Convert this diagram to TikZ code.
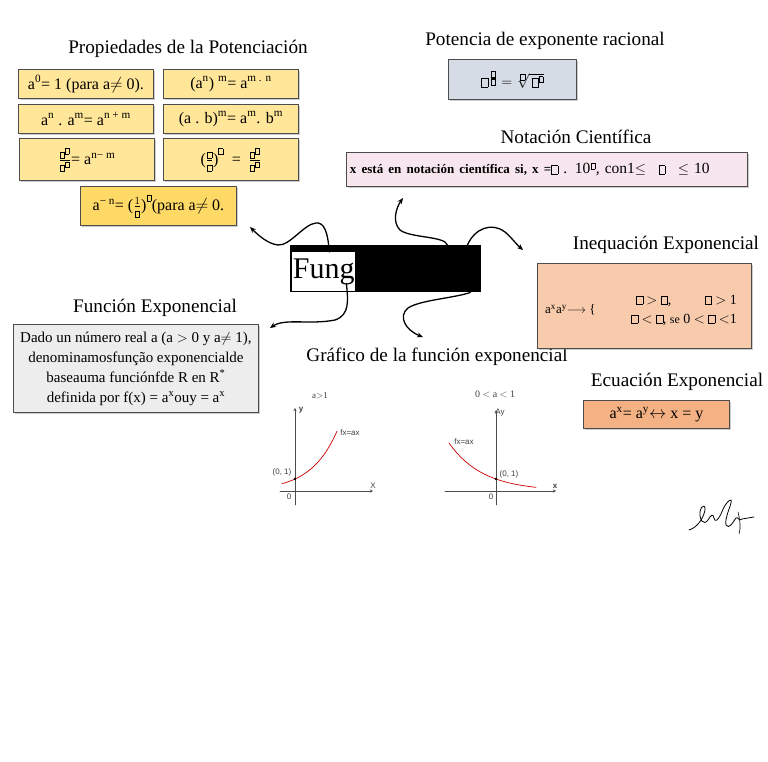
\documentclass[tikz,border=0pt]{standalone}
\usepackage{amsmath,amssymb}
\usepackage{fontspec}
\setmainfont{Liberation Serif}
\newfontfamily\lblfont{Liberation Sans}
\usetikzlibrary{arrows.meta,shadows,calc}
\usepackage{xcolor}

\definecolor{propfill}{HTML}{FFE699}
\definecolor{propdark}{HTML}{FFD966}
\definecolor{racfill}{HTML}{D6DCE5}
\definecolor{notfill}{HTML}{F7E6EE}
\definecolor{ineqfill}{HTML}{F8CBAD}
\definecolor{ecfill}{HTML}{F4B183}
\definecolor{funcfill}{HTML}{EDEDED}

% cajitas de glifo ausente
\newcommand\bx{\mbox{\fboxsep=0pt\fboxrule=0.45pt\fbox{\rule{0pt}{8pt}\hspace{6pt}}}}
\newcommand\sbx{\mbox{\fboxsep=0pt\fboxrule=0.4pt\fbox{\rule{0pt}{5.5pt}\hspace{4pt}}}}

\begin{document}
\begin{tikzpicture}[x=1pt,y=-1pt,>={Stealth[length=6pt,width=5pt]},line cap=round,
  ttl/.style={font=\fontsize{19.2}{22}\selectfont,inner sep=1pt},
  cbox/.style={draw=black!70,line width=0.9pt,anchor=north west,inner sep=2pt,align=center,
    drop shadow={opacity=0.4,shadow xshift=1.5pt,shadow yshift=-1.5pt}},
  propbox/.style={cbox,fill=propfill,minimum width=135,minimum height=29,font=\fontsize{16}{18}\selectfont},
  link/.style={->,line width=1.3pt},
  axis/.style={gray!60!black,line width=0.6pt,-{Stealth[length=3pt,width=3pt]}},
  curve/.style={red!80!black,line width=0.7pt},
  lbl/.style={font=\lblfont\fontsize{8}{9}\selectfont,text=black!75,inner sep=1pt}]
\useasboundingbox[fill=white] (0,0) rectangle (768,762);

% titulos
\node[ttl] (tprop) at (188,49) {Propiedades de la Potenciación};
\node[ttl] (trac) at (545,41) {Potencia de exponente racional};
\node[ttl] (tnot) at (576,137) {Notación Científica};
\node[ttl] (tineq) at (666,245) {Inequación Exponencial};
\node[ttl] (tfunc) at (155,308) {Función Exponencial};
\node[ttl] (tgraf) at (437,357) {Gráfico de la función exponencial};
\node[ttl] (tec) at (677,382) {Ecuación Exponencial};

% propiedades
\node[propbox] (p1) at (18,69) {a\textsuperscript{0}= 1 (para a$\neq$ 0).};
\node[propbox] (p2) at (163,69) {(a\textsuperscript{n}) \textsuperscript{m}= a\textsuperscript{m . n}};
\node[propbox] (p3) at (18,104) {a\textsuperscript{n} . a\textsuperscript{m}= a\textsuperscript{n + m}};
\node[propbox] (p4) at (163,104) {(a . b)\textsuperscript{m}= a\textsuperscript{m}. b\textsuperscript{m}};
\node[propbox,minimum height=42] (p5) at (19,138) {$\frac{\sbx^{\sbx}}{\sbx^{\sbx}}$= a\textsuperscript{n− m}};
\node[propbox,minimum height=42] (p6) at (163,138) {($\frac{\sbx}{\sbx}$)$^{\raisebox{4pt}{\sbx}}$\ \ = \ $\frac{\sbx^{\sbx}}{\sbx^{\sbx}}$};
\node[propbox,fill=propdark,minimum width=156,minimum height=39] (p7) at (80,186) {a\textsuperscript{− n}= ($\frac{1}{\sbx}$)$^{\raisebox{4pt}{\sbx}}$(para a$\neq$ 0.};

% cajas
\node[cbox,fill=racfill,minimum width=128,minimum height=40,font=\fontsize{15}{17}\selectfont] (rac) at (448,59) {$\bx^{\,\frac{\sbx}{\sbx}} = \sqrt[\sbx]{\,\bx^{\sbx}}$};
\node[cbox,fill=notfill,text width=394,minimum height=34,align=left,inner sep=3.5pt,font=\fontsize{15.5}{17}\selectfont] (nota) at (346,152)
  {{\fontsize{13}{15}\selectfont\textbf{x está en notación científica si, x =}}$\bx$ . 10$^{\sbx}$, con1$\leq$\hspace{0.8em}$\bx$\hspace{0.8em}$\leq$ 10};
\node[cbox,fill=ineqfill,minimum width=214,minimum height=85] (ineq) at (537,263) {};
\node[anchor=west,font=\fontsize{13}{15}\selectfont,inner sep=0pt] (ineql) at (545,310) {a\textsuperscript{x}a\textsuperscript{y}$\longrightarrow$ \{};
\node[align=right,anchor=east,font=\fontsize{14}{19}\selectfont,inner sep=0pt] (ineqr) at (737,310)
  {$\bx$ $>$ $\bx$,\hspace{2.4em}$\bx$ $>$ 1\\ $\bx$ $<$ $\bx$, {\fontsize{12}{14}\selectfont se} 0 $<$ $\bx$ $<$1};
\node[cbox,fill=ecfill,minimum width=146,minimum height=28,font=\fontsize{16}{18}\selectfont] (ecua) at (583,400) {a\textsuperscript{x}= a\textsuperscript{y}$\leftrightarrow$ x = y};
\node[cbox,fill=funcfill,minimum width=245,minimum height=88,font=\fontsize{15}{20}\selectfont] (func) at (13,324)
  {Dado un número real a (a $>$ 0 y a$\neq$ 1),\\ denominamosfunção exponencialde\\ baseauma funciónfde R en R\textsuperscript{*}\\ definida por f(x) = a\textsuperscript{x}ouy = a\textsuperscript{x}};

% centro
\node[fill=black,anchor=north west,minimum width=191,minimum height=47,inner sep=0pt] (fungbox) at (290,245) {};
\node[fill=white,anchor=north west,minimum width=63,minimum height=39,inner sep=0pt,font=\fontsize{30}{32}\selectfont] (fung) at (292,252) {Fung};

\coordinate (toprop) at (250,227);
\coordinate (torac) at (403,198);
\coordinate (toineq) at (523,250);
\coordinate (tofunc) at (270,328);
\coordinate (tograf) at (423,337);

\draw[link] ($(fung.north)+(5.5,0)$) .. controls (328,232) and (324,222) .. (316,223)
  .. controls (304,224) and (290,246) .. (278,245) .. controls (268,244) and (258,235) .. (toprop);
\draw[link] ($(fungbox.north east)+(-34,0)$) .. controls (445,236) and (410,238) .. (400,230)
  .. controls (392,222) and (396,208) .. (torac);
\draw[link] ($(fungbox.north east)+(-14,0)$) .. controls (475,228) and (492,222) .. (505,232)
  .. controls (512,238) and (516,244) .. (toineq);
\draw[link] ($(fung.south east)+(-9,-8)$) .. controls (348,300) and (350,315) .. (335,320)
  .. controls (310,325) and (285,318) .. (tofunc);
\draw[link] ($(fungbox.south east)+(-11,0)$) .. controls (455,298) and (420,300) .. (408,308)
  .. controls (398,316) and (405,330) .. (tograf);

% grafico a>1
\draw[axis] (295,505) -- (295,408);
\draw[axis] (280,491) -- (373,491);
\draw[curve] plot[domain=282:337,samples=40] (\x,{491-12*exp(0.0383*(\x-295))});
\fill (295,479) circle (1.3pt);
\node[lbl,font=\fontsize{9}{10}\selectfont] (ga) at (320,396) {a$>$1};
\node[lbl] (gy) at (301,410) {\textbf{y}};
\node[lbl] (gf) at (350,433) {fx=ax};
\node[lbl] (gp) at (282,472) {(0, 1)};
\node[lbl] (go) at (289,497) {0};
\node[lbl] (gx) at (373,486) {X};

% grafico 0<a<1
\draw[axis] (496,505) -- (496,410);
\draw[axis] (445,491) -- (556,491);
\draw[curve] plot[domain=449:536,samples=40] (\x,{491-12*exp(-0.0295*(\x-496))});
\fill (496,479) circle (1.3pt);
\node[lbl,font=\fontsize{10}{11}\selectfont] (gb) at (495,394) {0 $<$ a $<$ 1};
\node[lbl] (gay) at (500,413) {Ay};
\node[lbl] (gbf) at (464,442) {fx=ax};
\node[lbl] (gbp) at (509,474) {(0, 1)};
\node[lbl] (gbo) at (491,497) {0};
\node[lbl] (gbx) at (555,486) {\textbf{x}};

% firma
\draw[line width=0.8pt,line cap=round,line join=round]
  (689,530) .. controls (696,528) and (703,520) .. (705,510) .. controls (706,504) and (701,505) .. (700,512)
  .. controls (699,520) and (704,526) .. (708,520) .. controls (711,515) and (713,513) .. (714,518)
  .. controls (715,523) and (718,520) .. (721,514) .. controls (724,506) and (728,500) .. (731,500)
  .. controls (733,502) and (724,518) .. (726,525) .. controls (729,530) and (733,522) .. (736,518)
  .. controls (738,516) and (739,522) .. (742,519) -- (754,517);
\draw[line width=0.6pt] (738,512) .. controls (740,520) and (741,528) .. (739,534);
\end{tikzpicture}
\end{document}
